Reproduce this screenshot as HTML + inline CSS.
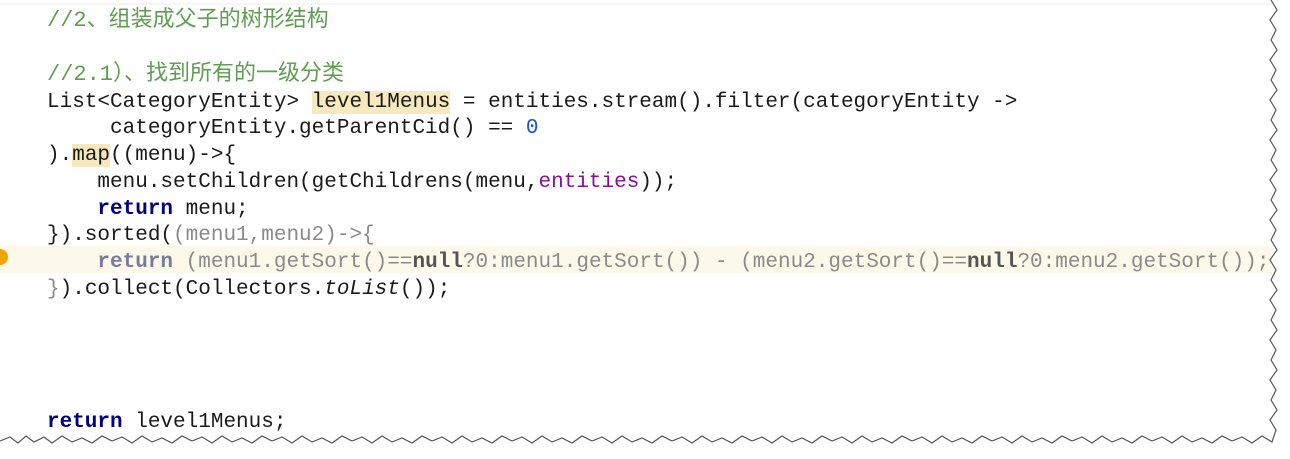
<!DOCTYPE html>
<html><head><meta charset="utf-8"><style>
body{margin:0;width:1290px;height:459px;background:#fff;overflow:hidden;position:relative}
.code{position:absolute;left:47px;top:7.6px;font-family:"Liberation Mono","Noto Sans CJK SC",monospace;font-size:21px;line-height:26.7px;color:#1a1a1a;white-space:pre}
.c{color:#5f9e52;font-family:"Liberation Mono","Noto Sans CJK SC",monospace;font-size:22px}
.k{color:#000080;font-weight:bold}
.n{color:#1750eb}
.p{color:#871094}
.g{color:#8a8a8a}
.h{background:#f5e9bd}
.hl{position:absolute;left:0;top:246px;width:1272px;height:27px;background:#fdf9ea}
</style></head><body>
<div class="hl"></div>
<div style="position:absolute;left:0;top:249px;width:8px;height:16px;background:#f0a500;border-radius:0 8px 8px 0"></div>
<div class="code"><span class="c">//2、组装成父子的树形结构</span>

<span class="c">//2.1）、找到所有的一级分类</span>
List&lt;CategoryEntity&gt; <span class="h">level1Menus</span> = entities.stream().filter(categoryEntity -&gt;
     categoryEntity.getParentCid() == <span class="n">0</span>
).<span class="h">map</span>((menu)-&gt;{
    menu.setChildren(getChildrens(menu,<span class="p">entities</span>));
    <span class="k">return</span> menu;
}).sorted(<span class="g">(menu1,menu2)-&gt;{</span>
<span class="g">    <b style="color:#7a7a9a">return</b> (menu1.getSort()==<b style="color:#555">null</b>?0:menu1.getSort()) - (menu2.getSort()==<b style="color:#555">null</b>?0:menu2.getSort());</span>
<span class="g">}</span>).collect(Collectors.<i>toList</i>());




<span class="k">return</span> level1Menus;</div>
<svg width="1290" height="459" style="position:absolute;left:0;top:0">
<polyline fill="none" stroke="#555" stroke-width="1.2" points="0,441 10,437 18,443 26,436 34,442 44,437 52,443 62,436 72,442 82,438 92,443 102,436 112,441 122,437 132,443 142,436 152,442 162,438 172,443 182,436 192,441 202,437 212,443 222,436 232,442 242,438 252,443 262,436 272,441 282,437 292,443 302,436 312,442 322,438 332,443 342,436 352,441 362,437 372,443 382,436 392,442 402,438 412,443 422,436 432,441 442,437 452,443 462,436 472,442 482,438 492,443 502,436 512,441 522,437 532,443 542,436 552,442 562,438 572,443 582,436 592,441 602,437 612,443 622,436 632,442 642,438 652,443 662,436 672,441 682,437 692,443 702,436 712,442 722,438 732,443 742,436 752,441 762,437 772,443 782,436 792,442 802,438 812,443 822,436 832,441 842,437 852,443 862,436 872,442 882,438 892,443 902,436 912,441 922,437 932,443 942,436 952,442 962,438 972,443 982,436 992,441 1002,437 1012,443 1022,436 1032,442 1042,438 1052,443 1062,436 1072,441 1082,437 1092,443 1102,436 1112,442 1122,438 1132,443 1142,436 1152,441 1162,437 1172,443 1182,436 1192,442 1202,438 1212,443 1222,436 1232,441 1242,437 1252,443 1262,436 1272,442 1276,430 1270,420 1277,410 1271,400 1276,390 1270,380 1277,370 1271,360 1276,350 1270,340 1277,330 1271,320 1276,310 1270,300 1277,290 1271,280 1276,270 1270,260 1277,250 1271,240 1276,230 1270,220 1277,210 1271,200 1276,190 1270,180 1277,170 1271,160 1276,150 1270,140 1277,130 1271,120 1276,110 1270,100 1277,90 1271,80 1276,70 1270,60 1277,50 1271,40 1276,30 1270,20 1277,10 1271,0"/>
<line x1="0" y1="4" x2="1272" y2="4" stroke="#eee"/>
</svg>
</body></html>
